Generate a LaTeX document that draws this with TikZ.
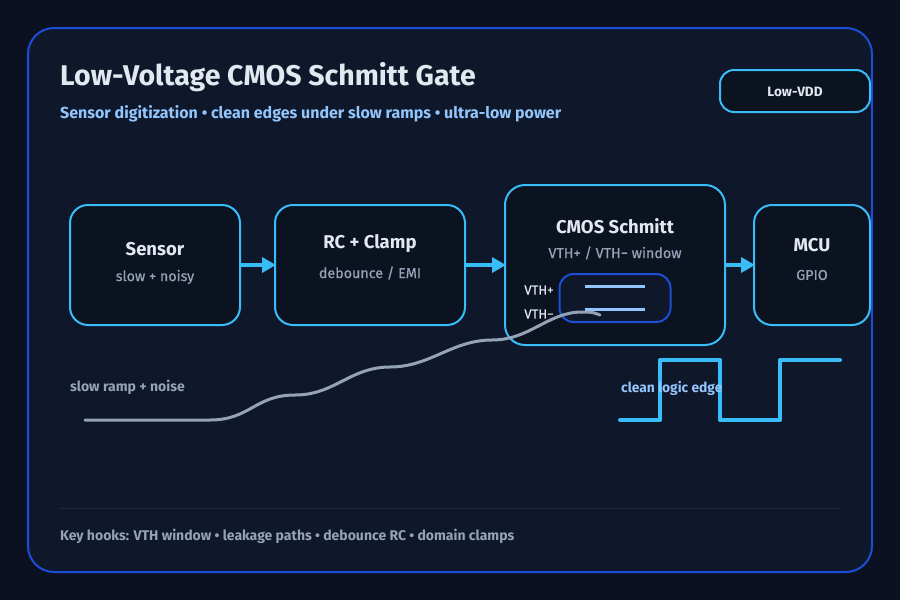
\documentclass[tikz,border=0pt]{standalone}
\usepackage{fontspec}
\setmainfont{Fira Sans}
\newfontfamily\medfont{Fira Sans}[FakeBold=0.6]
\usetikzlibrary{arrows.meta}
\definecolor{bg}{HTML}{0B1120}
\definecolor{panel}{HTML}{0F172A}
\definecolor{panelline}{HTML}{1D4ED8}
\definecolor{boxfill}{HTML}{0B1220}
\definecolor{cyanline}{HTML}{38BDF8}
\definecolor{titlecol}{HTML}{E2E8F0}
\definecolor{subcol}{HTML}{93C5FD}
\definecolor{graycol}{HTML}{94A3B8}
\definecolor{sepcol}{HTML}{1E293B}
\tikzset{
  blockbox/.style={draw=cyanline, fill=boxfill, line width=2pt, rounded corners=18pt, inner sep=0pt},
  blocktitle/.style={text=titlecol, font=\bfseries\fontsize{18.5}{22}\selectfont, inner sep=0pt},
  blocksub/.style={text=graycol, font=\medfont\fontsize{14.3}{17}\selectfont, inner sep=0pt},
  flowarrow/.style={draw=cyanline, line width=4pt, -{Triangle[length=14pt,width=15pt]}, shorten >=-2pt},
  smalllabel/.style={text=titlecol, font=\medfont\fontsize{13}{15}\selectfont, inner sep=0pt},
}
\begin{document}
\begin{tikzpicture}[x=1pt,y=-1pt]
\useasboundingbox (0,0) rectangle (900,600);
\fill[bg] (0,0) rectangle (900,600);
% panel
\draw[fill=panel, draw=panelline, line width=2pt, rounded corners=26pt] (28,28) rectangle (872,572);

% title
\node[anchor=base west, inner sep=0pt, text=titlecol, font=\bfseries\fontsize{28.5}{32}\selectfont] (title) at (60,85) {Low-Voltage CMOS Schmitt Gate};
\node[anchor=base west, inner sep=0pt, text=subcol, font=\bfseries\fontsize{16}{19}\selectfont] (subtitle) at (60,118) {Sensor digitization • clean edges under slow ramps • ultra-low power};

% Low-VDD badge
\node[blockbox, rounded corners=14pt, minimum width=150pt, minimum height=42pt] (vdd) at (795,91) {};
\node[text=titlecol, font=\bfseries\fontsize{13.5}{16}\selectfont, inner sep=0pt] (vddt) at (795,92) {Low-VDD};

% blocks
\node[blockbox, minimum width=170pt, minimum height=120pt] (sensor) at (155,265) {};
\node[blocktitle] (sensort) at (155,249) {Sensor};
\node[blocksub] (sensors) at (155,277) {slow + noisy};

\node[blockbox, minimum width=190pt, minimum height=120pt] (rc) at (370,265) {};
\node[blocktitle] (rct) at (370,244) {RC + Clamp};
\node[blocksub] (rcs) at (370,273) {debounce / EMI};

\node[blockbox, rounded corners=20pt, minimum width=220pt, minimum height=160pt] (cmos) at (615,265) {};
\node[blocktitle] (cmost) at (615,226) {CMOS Schmitt};
\node[blocksub] (cmoss) at (615,253) {VTH+ / VTH− window};

\node[draw=panelline, fill=panel, line width=2pt, rounded corners=14pt, minimum width=111pt, minimum height=48pt, inner sep=0pt] (win) at (615,298) {};
\coordinate (hiA) at (585,286);
\coordinate (hiB) at (645,286);
\coordinate (loA) at (585,309);
\coordinate (loB) at (645,309);
\draw[subcol, line width=3pt] (hiA) -- (hiB);
\draw[subcol, line width=3pt] (loA) -- (loB);
\node[smalllabel] (vthp) at (539,290) {VTH+};
\node[smalllabel] (vthm) at (539,314) {VTH−};

\node[blockbox, minimum width=116pt, minimum height=120pt] (mcu) at (812,265) {};
\node[blocktitle] (mcut) at (812,245) {MCU};
\node[blocksub] (mcus) at (812,275) {GPIO};

% arrows
\draw[flowarrow] (sensor.east) -- (rc.west);
\draw[flowarrow] (rc.east) -- (cmos.west);
\draw[flowarrow] (cmos.east) -- (mcu.west);

% slow ramp wave
\draw[graycol, line width=3pt, line cap=round]
  (85,420) -- (210,420)
  .. controls (250,420) and (255,395) .. (295,395)
  .. controls (335,395) and (350,367) .. (390,367)
  .. controls (430,367) and (452,340) .. (492,340)
  .. controls (530,340) and (548,312) .. (582,312)
  .. controls (592,312) .. (600,315);

% square wave
\draw[cyanline, line width=4pt, line cap=round, line join=round]
  (620,420) -- (660,420) -- (660,360) -- (720,360) -- (720,420) -- (780,420) -- (780,360) -- (840,360);

\node[anchor=west, inner sep=0pt, text=graycol, font=\bfseries\fontsize{14}{16}\selectfont] (ramplbl) at (70,387) {slow ramp + noise};
\node[anchor=west, inner sep=0pt, text=subcol, font=\bfseries\fontsize{13.8}{16}\selectfont] (edgelbl) at (621,388) {clean logic edge};

% separator and footer
\coordinate (sepA) at (60,508);
\coordinate (sepB) at (840,508);
\draw[sepcol, line width=1pt] (sepA) -- (sepB);
\node[anchor=base west, inner sep=0pt, text=graycol, font=\bfseries\fontsize{14}{16}\selectfont] (footer) at (60,540) {Key hooks: VTH window • leakage paths • debounce RC • domain clamps};
\end{tikzpicture}
\end{document}
